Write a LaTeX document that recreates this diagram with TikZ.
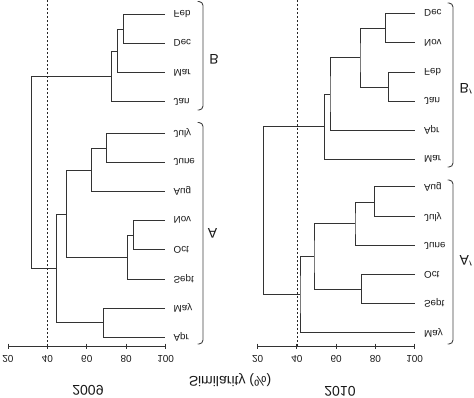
\documentclass[tikz,border=0pt]{standalone}
\usepackage{fontspec}
\setmainfont{Liberation Sans}
\newcommand{\flipt}[1]{\scalebox{1}[-1]{#1}}
\begin{document}
\begin{tikzpicture}[x=1pt,y=-1pt,
  tree/.style={draw=black!80,line width=1pt},
  ax/.style={draw=black!80,line width=1pt},
  cut/.style={draw=black!85,line width=0.85pt,dash pattern=on 2pt off 2pt},
  brk/.style={draw=black!75,line width=0.9pt,rounded corners=4pt},
  mon/.style={anchor=west,inner sep=0pt,font=\fontsize{9.8}{11}\selectfont,text=black!90},
  tick/.style={inner sep=0pt,font=\fontsize{10}{12}\selectfont,text=black!90},
  grp/.style={inner sep=0pt,font=\fontsize{14}{16}\selectfont,text=black!90},
  ttl/.style={inner sep=0pt,font=\fontsize{14}{16}\selectfont,text=black!90}]
\useasboundingbox (0,0) rectangle (474,397);

% ================= LEFT PANEL (2009) =================
\foreach \nm/\yy in {Feb/14.3,Dec/43,Mar/72.7,Jan/101.7,July/133.3,June/162.3,Aug/191.3,Nov/220.3,Oct/249.5,Sept/279,May/308.3,Apr/337}{
  \coordinate (L\nm) at (165,\yy);
  \node[mon] (LT\nm) at (173.5,\yy) {\flipt{\nm}};
}
\coordinate (LmFD) at (123.3,29.3);
\coordinate (LmFDM) at (117.7,51);
\coordinate (LmB) at (111.7,76);
\coordinate (LmJJ) at (106.7,148);
\coordinate (LmJJA) at (91.7,170);
\coordinate (LmNO) at (133.3,235);
\coordinate (LmNOS) at (127.7,257.3);
\coordinate (LmA1) at (66.7,214.3);
\coordinate (LmMA) at (103.3,322);
\coordinate (LmA) at (56.7,268);
\coordinate (Lroot) at (31.7,172);

\draw[tree] (LFeb) -| (LmFD) |- (LDec);
\draw[tree] (LmFD) -| (LmFDM) |- (LMar);
\draw[tree] (LmFDM) -| (LmB) |- (LJan);
\draw[tree] (LJuly) -| (LmJJ) |- (LJune);
\draw[tree] (LmJJ) -| (LmJJA) |- (LAug);
\draw[tree] (LNov) -| (LmNO) |- (LOct);
\draw[tree] (LmNO) -| (LmNOS) |- (LSept);
\draw[tree] (LmJJA) -| (LmA1) |- (LmNOS);
\draw[tree] (LMay) -| (LmMA) |- (LApr);
\draw[tree] (LmA1) -| (LmA) |- (LmMA);
\draw[tree] (LmB) -| (Lroot) |- (LmA);

\coordinate (LaxA) at (8,346);
\coordinate (LaxB) at (165.6,346);
\draw[ax] (LaxA) -- (LaxB);
\foreach \v [count=\i from 0] in {20,40,60,80,100}{
  \pgfmathsetmacro{\xx}{8+39.4*\i}
  \draw[ax] (\xx,343.5) -- (\xx,349);
  \node[tick] (Ltk\v) at (\xx,359) {\flipt{\v}};
}
\coordinate (LcutT) at (47.4,0);
\coordinate (LcutB) at (47.4,346);
\draw[cut] (LcutT) -- (LcutB);

\draw[brk] (197.5,1.5) -- (203,1.5) -- (203,110) -- (197.5,110);
\draw[brk] (197.5,122.5) -- (203,122.5) -- (203,344) -- (197.5,344);
\node[grp] (LgB) at (214,59.5) {\flipt{B}};
\node[grp] (LgA) at (212.5,233) {\flipt{A}};

\node[ttl] (Lyear) at (88,390) {\flipt{2009}};

% ================= RIGHT PANEL (2010) =================
\foreach \nm/\yy in {Dec/13.3,Nov/42.7,Feb/72,Jan/101,Apr/130,Mar/159.3,Aug/186.7,July/216.7,June/245.7,Oct/274.7,Sept/303.3,May/332.7}{
  \coordinate (R\nm) at (415,\yy);
  \node[mon] (RT\nm) at (424,\yy) {\flipt{\nm}};
}
\coordinate (RmDN) at (385.7,28.3);
\coordinate (RmFJ) at (388.3,87);
\coordinate (RmDNFJ) at (360,57.7);
\coordinate (RmBa) at (330,94.3);
\coordinate (RmB) at (324.7,126.7);
\coordinate (RmAJ) at (374.7,202.3);
\coordinate (RmAJJ) at (355,223.3);
\coordinate (RmOS) at (361.7,289.3);
\coordinate (RmA1) at (314,256.7);
\coordinate (RmA) at (300,294.5);
\coordinate (Rroot) at (263.5,210);

\draw[tree] (RDec) -| (RmDN) |- (RNov);
\draw[tree] (RFeb) -| (RmFJ) |- (RJan);
\draw[tree] (RmDN) -| (RmDNFJ) |- (RmFJ);
\draw[tree] (RmDNFJ) -| (RmBa) |- (RApr);
\draw[tree] (RmBa) -| (RmB) |- (RMar);
\draw[tree] (RAug) -| (RmAJ) |- (RJuly);
\draw[tree] (RmAJ) -| (RmAJJ) |- (RJune);
\draw[tree] (ROct) -| (RmOS) |- (RSept);
\draw[tree] (RmAJJ) -| (RmA1) |- (RmOS);
\draw[tree] (RmA1) -| (RmA) |- (RMay);
\draw[tree] (RmB) -| (Rroot) |- (RmA);

\coordinate (RaxA) at (257.7,346);
\coordinate (RaxB) at (414.7,346);
\draw[ax] (RaxA) -- (RaxB);
\foreach \v [count=\i from 0] in {20,40,60,80,100}{
  \pgfmathsetmacro{\xx}{257.7+39.25*\i}
  \draw[ax] (\xx,343.5) -- (\xx,349);
  \node[tick] (Rtk\v) at (\xx,359) {\flipt{\v}};
}
\coordinate (RcutT) at (297.2,0);
\coordinate (RcutB) at (297.2,346);
\draw[cut] (RcutT) -- (RcutB);

\draw[brk] (447.5,3) -- (453,3) -- (453,167) -- (447.5,167);
\draw[brk] (447.5,180) -- (453,180) -- (453,344) -- (447.5,344);
\node[grp,anchor=west] (RgB) at (459.5,89) {\flipt{B$'$}};
\node[grp,anchor=west] (RgA) at (459.5,261) {\flipt{A$'$}};

\node[ttl] (Ryear) at (340,391) {\flipt{2010}};

\node[ttl] (simil) at (230,380) {\flipt{Similarity (\%)}};
\end{tikzpicture}
\end{document}
